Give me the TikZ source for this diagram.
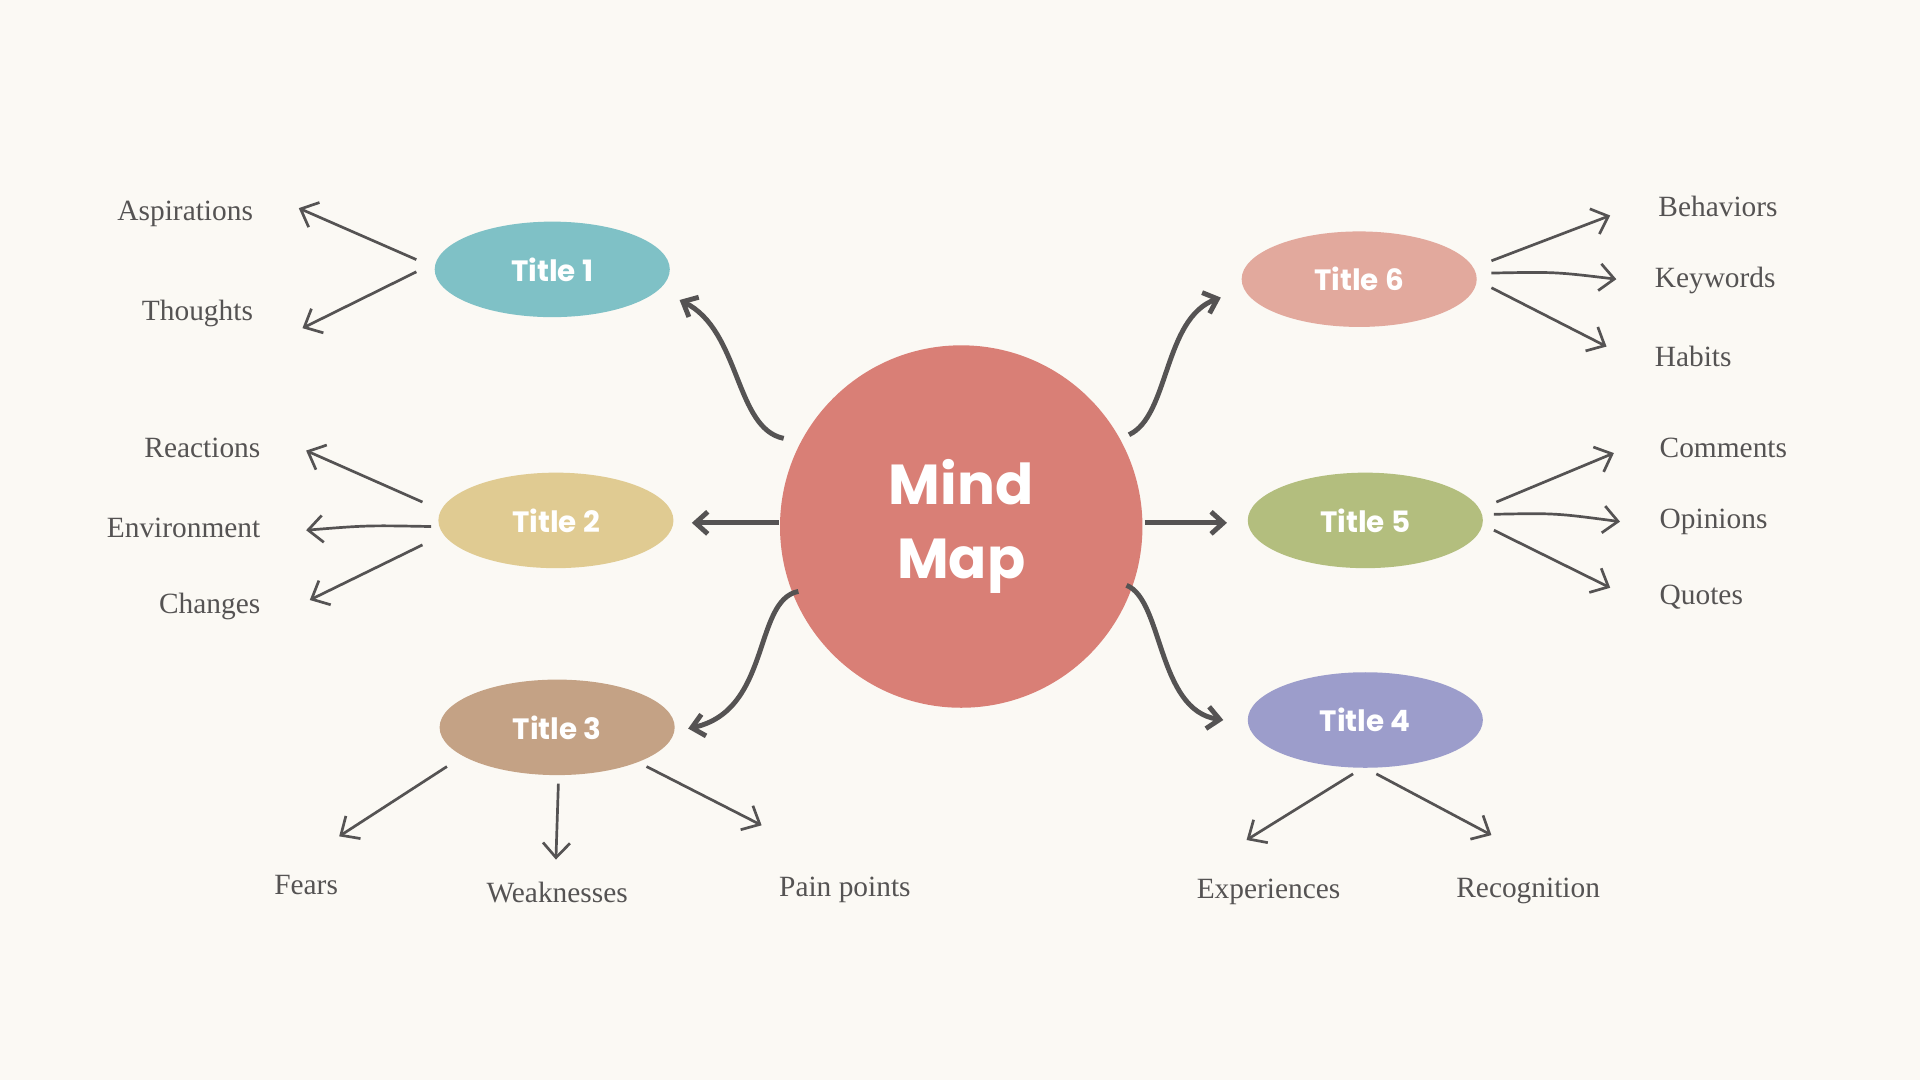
\documentclass[tikz,border=0pt]{standalone}
\usepackage{fontspec}
\setmainfont{Liberation Serif}
\newfontfamily\titlefont{Poppins}
\usetikzlibrary{arrows.meta,shapes.geometric}
\definecolor{bg}{HTML}{FBF9F4}
\definecolor{ink}{HTML}{555353}
\definecolor{cmain}{HTML}{D97F76}
\definecolor{cA}{HTML}{7FC1C6}
\definecolor{cB}{HTML}{E0CB92}
\definecolor{cC}{HTML}{C4A285}
\definecolor{cD}{HTML}{9C9DCB}
\definecolor{cE}{HTML}{B3BE7E}
\definecolor{cF}{HTML}{E2A99D}
\begin{document}
\begin{tikzpicture}[x=0.5pt,y=-0.5pt,
  title/.style={ellipse,minimum width=96pt,minimum height=39pt,inner sep=0pt,text=white,font=\titlefont\bfseries\fontsize{12}{14}\selectfont},
  leaf/.style={text=ink,font=\fontsize{12}{14}\selectfont,inner sep=0pt},
  main/.style={draw=ink,line width=2pt,-{Straight Barb[length=5pt,width=9pt]}},
  sub/.style={draw=ink,line width=1.1pt,-{Straight Barb[length=6pt,width=11pt]}}]
\path[use as bounding box,fill=bg] (0,0) rectangle (1568,882);
\node[circle,fill=cmain,minimum size=148pt,inner sep=0pt,align=center,text=white,font=\titlefont\bfseries\fontsize{23}{30}\selectfont] (c) at (785,430) {Mind\\Map};
\node[title,fill=cA] (t1) at (451,220) {Title 1};
\node[title,fill=cB] (t2) at (454,425) {Title 2};
\node[title,fill=cC] (t3) at (455,594) {Title 3};
\node[title,fill=cF] (t6) at (1110,228) {Title 6};
\node[title,fill=cE] (t5) at (1115,425) {Title 5};
\node[title,fill=cD] (t4) at (1115,588) {Title 4};
% centre connectors
\coordinate (c1) at (640,358); \coordinate (c2) at (636,427); \coordinate (c3) at (652,483);
\coordinate (c6) at (922,355); \coordinate (c5) at (935,427); \coordinate (c4) at (920,478);
\coordinate (e1) at (555,245); \coordinate (e2) at (565,427); \coordinate (e3) at (562,595);
\coordinate (e6) at (997,243); \coordinate (e5) at (1002,427); \coordinate (e4) at (999,588);
\draw[main] (c1) .. controls (600,350) and (605,270) .. (e1);
\draw[main] (c2) -- (e2);
\draw[main] (c3) .. controls (615,490) and (630,580) .. (e3);
\draw[main] (c6) .. controls (955,340) and (950,260) .. (e6);
\draw[main] (c5) -- (e5);
\draw[main] (c4) .. controls (950,490) and (945,580) .. (e4);
% leaves
\node[leaf,anchor=east] (l1) at (207,175) {Aspirations};
\node[leaf,anchor=east] (l2) at (207,256) {Thoughts};
\node[leaf,anchor=east] (l3) at (213,366) {Reactions};
\node[leaf,anchor=east] (l4) at (213,431) {Environment};
\node[leaf,anchor=east] (l5) at (213,495) {Changes};
\node[leaf] (l6) at (250,723) {Fears};
\node[leaf] (l7) at (455,729) {Weaknesses};
\node[leaf] (l8) at (690,727) {Pain points};
\node[leaf,anchor=west] (l9) at (1354,169) {Behaviors};
\node[leaf,anchor=west] (l10) at (1351,229) {Keywords};
\node[leaf,anchor=west] (l11) at (1351,291) {Habits};
\node[leaf,anchor=west] (l12) at (1355,366) {Comments};
\node[leaf,anchor=west] (l13) at (1355,426) {Opinions};
\node[leaf,anchor=west] (l14) at (1355,488) {Quotes};
\node[leaf] (l15) at (1036,728) {Experiences};
\node[leaf] (l16) at (1248,728) {Recognition};
\draw[sub] (340,212) -- (244,170);
\draw[sub] (340,222) -- (247,268);
\draw[sub] (345,410) -- (250,368);
\draw[sub] (352,430) .. controls (300,429) .. (250,433);
\draw[sub] (345,445) -- (253,490);
\draw[sub] (365,626) -- (277,683);
\draw[sub] (456,640) -- (454,702);
\draw[sub] (528,626) -- (622,674);
\draw[sub] (1218,213) -- (1315,176);
\draw[sub] (1218,223) .. controls (1270,222) .. (1320,228);
\draw[sub] (1218,235) -- (1312,283);
\draw[sub] (1222,410) -- (1318,370);
\draw[sub] (1220,420) .. controls (1270,419) .. (1323,426);
\draw[sub] (1220,433) -- (1315,480);
\draw[sub] (1105,632) -- (1018,686);
\draw[sub] (1124,632) -- (1218,682);
\end{tikzpicture}
\end{document}
